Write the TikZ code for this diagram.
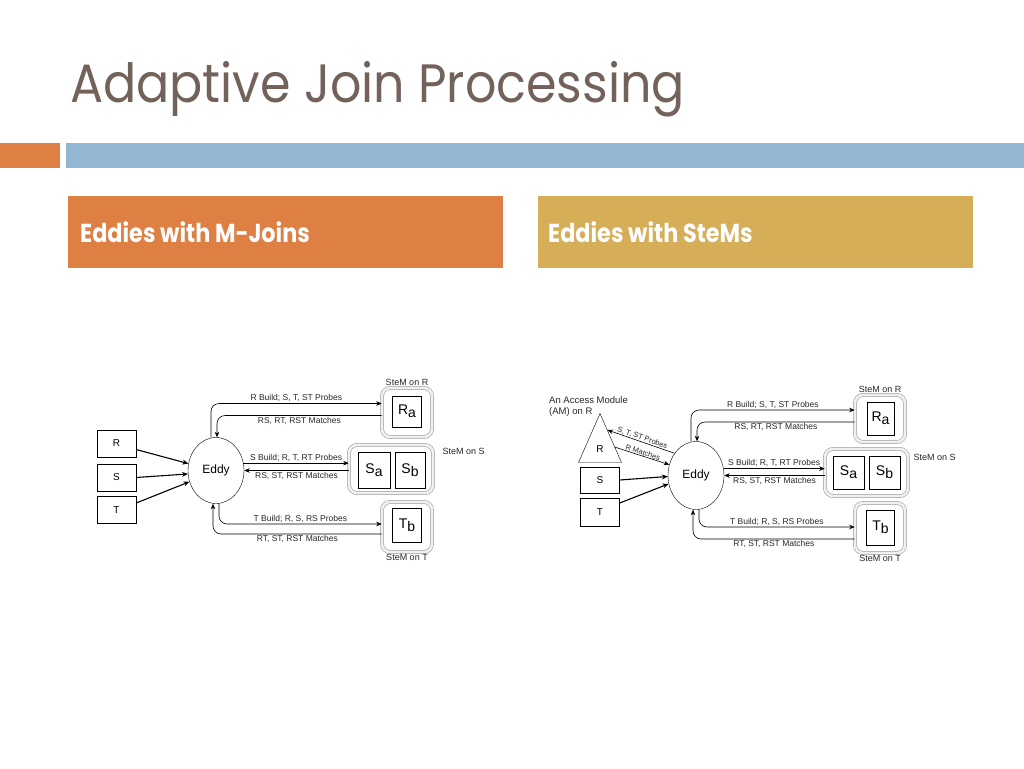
\documentclass[tikz,border=0pt]{standalone}
\usepackage{fontspec}
\setmainfont{Liberation Sans}
\newfontfamily\titlefont{Poppins}
\usetikzlibrary{arrows,arrows.meta,shapes,shadows}
\usetikzlibrary{positioning}
\definecolor{titlebrown}{RGB}{115,98,90}
\definecolor{barorange}{RGB}{222,128,68}
\definecolor{barblue}{RGB}{147,182,210}
\definecolor{bargold}{RGB}{213,174,87}
\newcommand{\lowidx}[1]{\raisebox{-0.45ex}{#1}}
\tikzstyle{title}=[anchor=base west,inner sep=0,text=titlebrown,xscale=0.91,
                font=\titlefont\fontsize{54}{60}\selectfont]
\tikzstyle{hdr}=[minimum width=435pt,minimum height=72pt,text width=411pt,
                inner xsep=12pt,align=left,text=white]
\tikzstyle{hdrtext}=[anchor=base west,inner sep=0,text=white,xscale=0.86,
                font=\titlefont\bfseries\fontsize{26}{28}\selectfont]
\tikzstyle{rel}=[draw,minimum width=39pt,minimum height=27pt,inner sep=0,
                font=\fontsize{10}{12}\selectfont]
\tikzstyle{eddy}=[draw,ellipse,minimum width=56pt,minimum height=66pt,inner sep=0,
                font=\fontsize{12}{14}\selectfont]
\tikzstyle{stem}=[rectangle,rounded corners=8pt,draw=gray!75,line width=0.6pt,
                double=gray!12,double distance=2.6pt,fill=white,inner sep=0,
                drop shadow={opacity=0.25,shadow xshift=1pt,shadow yshift=-1pt}]
\tikzstyle{part}=[draw,fill=white,minimum width=29pt,minimum height=31pt,inner sep=0,
                font=\fontsize{14}{16}\selectfont]
\tikzstyle{lbl}=[font=\fontsize{8.5}{10}\selectfont,text=black!85,inner sep=1.5pt]
\tikzstyle{amlbl}=[font=\fontsize{7.5}{9}\selectfont,text=black!85,inner sep=0.5pt]
\tikzstyle{stemlbl}=[font=\fontsize{9}{10}\selectfont,text=black!85,inner sep=0]
\tikzstyle{flow}=[->,>={Stealth[length=5.5pt,width=4.5pt]},rounded corners=8pt,line width=0.6pt]
\tikzstyle{feed}=[->,>={Stealth[length=6pt,width=5pt]},line width=1.1pt]
\tikzstyle{am}=[draw,isosceles triangle,shape border rotate=90,
                isosceles triangle stretches,minimum width=43pt,minimum height=49pt,
                inner sep=0,font=\fontsize{10}{12}\selectfont]

\begin{document}
\begin{tikzpicture}[x=1pt,y=-1pt]
\useasboundingbox (0,0) rectangle (1024,768);

% slide header
\node[title] (title) at (70,102) {Adaptive Join Processing};
\fill[barorange] (0,143) rectangle (60,168);
\fill[barblue] (66,143) rectangle (1024,168);
\node[hdr,fill=barorange] (hmjoin) at (285.5,232) {};
\node[hdr,fill=bargold] (hstems) at (755,232) {};
\node[hdrtext] (tmjoin) at (80,242) {Eddies with M-Joins};
\node[hdrtext] (tstems) at (548,242) {Eddies with SteMs};

% eddies with m-joins
\node[rel] (r1) at (116.5,443.5) {R};
\node[rel] (s1) at (116.5,477.5) {S};
\node[rel] (t1) at (116.5,510) {T};
\node[eddy] (eddy1) at (216,470.5) {Eddy};

\node[stem,minimum width=50pt,minimum height=49pt] (stemR1) at (407,412.5) {};
\node[part] (ra1) at (407,411.5) {R\lowidx{a}};
\node[stemlbl,above=1.5pt of stemR1] (lstemR1) {SteM on R};
\node[stem,minimum width=84pt,minimum height=48pt] (stemS1) at (391,469) {};
\node[part,minimum width=32pt,minimum height=36pt] (sa1) at (374,470) {S\lowidx{a}};
\node[part,minimum width=30pt,minimum height=36pt] (sb1) at (410,470) {S\lowidx{b}};
\node[stemlbl,anchor=west] (lstemS1) at ([xshift=9pt,yshift=-7pt]stemS1.north east) {SteM on S};
\node[stem,minimum width=50pt,minimum height=50pt] (stemT1) at (407,527) {};
\node[part,minimum height=34pt] (tb1) at (407,525) {T\lowidx{b}};
\node[stemlbl,below=2pt of stemT1] (lstemT1) {SteM on T};

\draw[feed] ([yshift=-6pt]r1.east) -- (eddy1.166);
\draw[feed] (s1.east) -- (eddy1.187);
\draw[feed] ([yshift=7pt]t1.east) -- (eddy1.203);

\draw[flow] ([xshift=-5pt]eddy1.north) |- node[lbl,above,pos=0.75] (l1rb) {R Build; S, T, ST Probes} ([yshift=9pt]stemR1.west);
\draw[flow] ([yshift=-3pt]stemR1.west) -| node[lbl,below,pos=0.25] (l1rm) {RS, RT, RST Matches} ([xshift=1pt]eddy1.north);
\draw[flow] (eddy1.15) -- node[lbl,above] (l1sb) {S Build; R, T, RT Probes} (eddy1.15 -| stemS1.west);
\draw[flow] (stemS1.west |- eddy1.east) -- node[lbl,below] (l1sm) {RS, ST, RST Matches} (eddy1.east);
\draw[flow] ([xshift=3pt]eddy1.south) |- node[lbl,above,pos=0.75] (l1tb) {T Build; R, S, RS Probes} ([yshift=3pt]stemT1.west);
\draw[flow] ([yshift=-7pt]stemT1.west) -| node[lbl,below,pos=0.25] (l1tm) {RT, ST, RST Matches} ([xshift=-3pt]eddy1.south);

% eddies with stems
\node[am,anchor=apex] (am2) at (600,413) {R};
\node[stemlbl,anchor=north west,align=left,font=\fontsize{9.5}{11.5}\selectfont] (lam2) at (549,396) {An Access Module\\(AM) on R};
\node[rel,minimum height=26pt] (s2) at (600,480) {S};
\node[rel,minimum height=28pt] (t2) at (600,512) {T};
\node[eddy,minimum height=68pt] (eddy2) at (696,475.5) {Eddy};

\node[stem,minimum width=50pt,minimum height=47pt] (stemR2) at (880,418.5) {};
\node[part,minimum width=27pt,minimum height=33pt] (ra2) at (880.5,418.5) {R\lowidx{a}};
\node[stemlbl,above=1.5pt of stemR2] (lstemR2) {SteM on R};
\node[stem,minimum width=83pt,minimum height=47pt] (stemS2) at (866.5,472.5) {};
\node[part,minimum width=31pt,minimum height=33pt] (sa2) at (848.5,472.5) {S\lowidx{a}};
\node[part,minimum width=31pt,minimum height=33pt] (sb2) at (884.5,472.5) {S\lowidx{b}};
\node[stemlbl,anchor=west] (lstemS2) at ([xshift=5pt,yshift=-9pt]stemS2.north east) {SteM on S};
\node[stem,minimum width=50pt,minimum height=50pt] (stemT2) at (880,528) {};
\node[part,minimum width=28pt,minimum height=35pt] (tb2) at (880.5,527.5) {T\lowidx{b}};
\node[stemlbl,below=2pt of stemT2] (lstemT2) {SteM on T};

\draw[feed] (s2.east) -- (eddy2.182);
\draw[feed] ([yshift=9pt]t2.east) -- (eddy2.197);
\draw[flow] (eddy2.134) -- node[amlbl,above,sloped] (l2ap) {S, T, ST Probes} ([xshift=7.5pt,yshift=-17pt]am2.apex);
\draw[flow] ([xshift=14.5pt,yshift=-34pt]am2.apex) -- node[amlbl,above,sloped] (l2am) {R Matches} (eddy2.158);

\draw[flow] ([xshift=-5pt]eddy2.north) |- node[lbl,above,pos=0.75] (l2rb) {R Build; S, T, ST Probes} ([yshift=8.5pt]stemR2.west);
\draw[flow] ([yshift=-3.5pt]stemR2.west) -| node[lbl,below,pos=0.25] (l2rm) {RS, RT, RST Matches} ([xshift=1pt]eddy2.north);
\draw[flow] (eddy2.14) -- node[lbl,above] (l2sb) {S Build; R, T, RT Probes} (eddy2.14 -| stemS2.west);
\draw[flow] (stemS2.west |- eddy2.east) -- node[lbl,below] (l2sm) {RS, ST, RST Matches} (eddy2.east);
\draw[flow] ([xshift=3pt]eddy2.south) |- node[lbl,above,pos=0.75] (l2tb) {T Build; R, S, RS Probes} ([yshift=1pt]stemT2.west);
\draw[flow] ([yshift=-11pt]stemT2.west) -| node[lbl,below,pos=0.25] (l2tm) {RT, ST, RST Matches} ([xshift=-3pt]eddy2.south);
\end{tikzpicture}
\end{document}
